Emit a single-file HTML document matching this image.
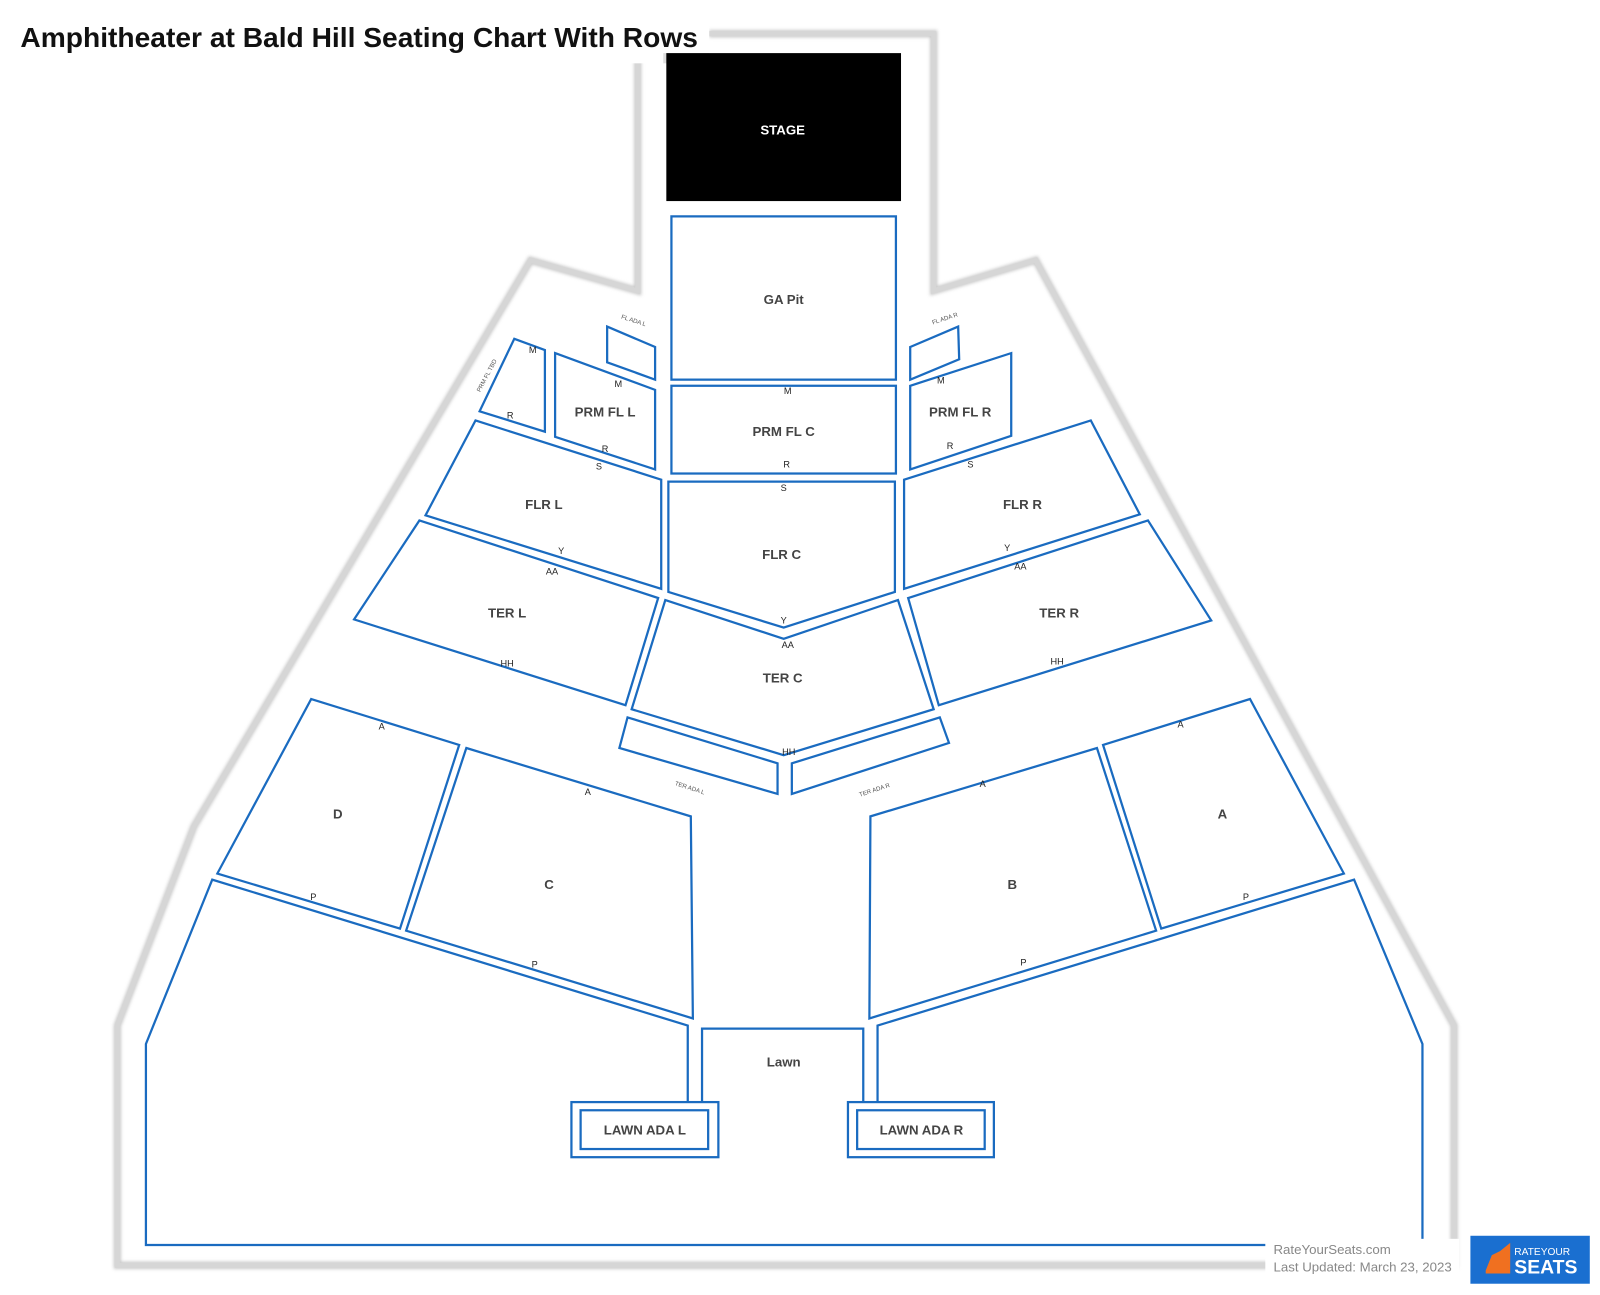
<!DOCTYPE html>
<html><head><meta charset="utf-8"><style>
html,body{margin:0;padding:0;background:#fff;width:1600px;height:1295px;overflow:hidden}
svg{display:block}
.s{fill:#fff;stroke:#1a6bc0;stroke-width:2.2;stroke-linejoin:miter}
.l{font-family:"Liberation Sans",sans-serif;font-weight:bold;font-size:13px;fill:#444;text-anchor:middle}
.r{font-family:"Liberation Sans",sans-serif;font-size:9px;fill:#222;text-anchor:middle}
.t{font-family:"Liberation Sans",sans-serif;font-size:6px;fill:#555;text-anchor:middle}
</style></head><body>
<svg width="1600" height="1295" viewBox="0 0 1568 1269" xmlns="http://www.w3.org/2000/svg">
<defs><filter id="sh" x="-5%" y="-5%" width="110%" height="110%"><feGaussianBlur stdDeviation="1.5"/></filter></defs>
<path d="M695,33 L915,33 L915,285 L1015,255 L1425,1005 L1425,1240 L115,1240 L115,1005 L190,810 L520,255 L625,285 L625,33 L650,33" fill="none" stroke="#c8c8c8" stroke-width="7" filter="url(#sh)"/>
<path d="M695,33 L915,33 L915,285 L1015,255 L1425,1005 L1425,1240 L115,1240 L115,1005 L190,810 L520,255 L625,285 L625,33 L650,33" fill="none" stroke="#d6d6d6" stroke-width="5"/>
<rect x="0" y="0" width="695" height="62" fill="#fff"/>
<rect x="650" y="52" width="45" height="10" fill="#ddd"/>
<text x="20" y="46" font-family="Liberation Sans,sans-serif" font-weight="bold" font-size="27" fill="#111" textLength="664" lengthAdjust="spacingAndGlyphs">Amphitheater at Bald Hill Seating Chart With Rows</text>
<rect x="653" y="52" width="230" height="145" fill="#000"/>
<text x="767" y="132" class="l" style="fill:#fff">STAGE</text>
<rect class="s" x="658" y="212" width="220" height="160"/><text class="l" x="768" y="298">GA Pit</text>
<rect class="s" x="658" y="378" width="220" height="86"/><text class="l" x="768" y="427">PRM FL C</text>
<text class="r" x="772" y="386">M</text><text class="r" x="771" y="458">R</text>
<polygon class="s" points="655,472 877,472 877,580 768,615 655,580"/><text class="l" x="766" y="548">FLR C</text>
<text class="r" x="768" y="481">S</text><text class="r" x="768" y="611">Y</text>
<polygon class="s" points="652,588 768,626 880,588 915,695 768,740 619,695"/><text class="l" x="767" y="669">TER C</text>
<text class="r" x="772" y="635">AA</text><text class="r" x="773" y="740">HH</text>
<polygon class="s" points="615,703 762,748 762,778 607,733"/>
<polygon class="s" points="776,748 921,703 930,728 776,778"/>
<text class="t" x="676" y="774" transform="rotate(18 676 772)">TER ADA L</text>
<text class="t" x="857" y="776" transform="rotate(-18 857 774)">TER ADA R</text>
<polygon class="s" points="595,320 642,340 642,372 595,355"/>
<polygon class="s" points="892,340 939,320 940,352 892,372"/>
<text class="t" x="621" y="316" transform="rotate(18 621 314)">FL ADA L</text>
<text class="t" x="926" y="314" transform="rotate(-18 926 312)">FL ADA R</text>
<polygon class="s" points="504,332 534,343 534,423 470,403"/>
<text class="t" x="477" y="370" transform="rotate(-62 477 368)">PRM FL TBD</text>
<text class="r" x="522" y="346">M</text><text class="r" x="500" y="410">R</text>
<polygon class="s" points="544,346 642,382 642,460 544,428"/><text class="l" x="593" y="408">PRM FL L</text>
<text class="r" x="606" y="379">M</text><text class="r" x="593" y="443">R</text>
<polygon class="s" points="892,378 991,346 991,427 892,460"/><text class="l" x="941" y="408">PRM FL R</text>
<text class="r" x="922" y="376">M</text><text class="r" x="931" y="440">R</text>
<polygon class="s" points="466,412 648,470 648,577 417,505"/><text class="l" x="533" y="499">FLR L</text>
<text class="r" x="587" y="460">S</text><text class="r" x="550" y="543">Y</text>
<polygon class="s" points="886,470 1069,412 1117,504 886,577"/><text class="l" x="1002" y="499">FLR R</text>
<text class="r" x="951" y="458">S</text><text class="r" x="987" y="540">Y</text>
<polygon class="s" points="411,510 645,586 613,691 347,607"/><text class="l" x="497" y="605">TER L</text>
<text class="r" x="541" y="563">AA</text><text class="r" x="497" y="653">HH</text>
<polygon class="s" points="890,586 1125,510 1187,608 920,691"/><text class="l" x="1038" y="605">TER R</text>
<text class="r" x="1000" y="558">AA</text><text class="r" x="1036" y="651">HH</text>
<polygon class="s" points="305,685 450,730 392,910 213,856"/><text class="l" x="331" y="802">D</text>
<text class="r" x="374" y="715">A</text><text class="r" x="307" y="882">P</text>
<polygon class="s" points="457,733 677,800 679,998 398,912"/><text class="l" x="538" y="871">C</text>
<text class="r" x="576" y="779">A</text><text class="r" x="524" y="948">P</text>
<polygon class="s" points="853,800 1075,733 1133,912 852,998"/><text class="l" x="992" y="871">B</text>
<text class="r" x="963" y="771">A</text><text class="r" x="1003" y="946">P</text>
<polygon class="s" points="1081,730 1225,685 1317,856 1138,910"/><text class="l" x="1198" y="802">A</text>
<text class="r" x="1157" y="713">A</text><text class="r" x="1221" y="882">P</text>
<path class="s" style="fill:none" d="M674,1080 L674,1005 L208,862 L143,1023 L143,1220 L1394,1220 L1394,1023 L1327,862 L860,1005 L860,1080"/>
<path class="s" style="fill:none" d="M688,1080 L688,1008 L846,1008 L846,1080"/>
<text class="l" x="768" y="1045">Lawn</text>
<rect class="s" x="560" y="1080" width="144" height="54"/><rect class="s" x="569" y="1088" width="125" height="38"/>
<text class="l" x="632" y="1112">LAWN ADA L</text>
<rect class="s" x="831" y="1080" width="143" height="54"/><rect class="s" x="840" y="1088" width="125" height="38"/>
<text class="l" x="903" y="1112">LAWN ADA R</text>
<rect x="1240" y="1214" width="190" height="40" fill="#fff"/>
<text x="1248" y="1229" font-family="Liberation Sans,sans-serif" font-size="13" fill="#888">RateYourSeats.com</text>
<text x="1248" y="1246" font-family="Liberation Sans,sans-serif" font-size="13" fill="#888">Last Updated: March 23, 2023</text>
<rect x="1441" y="1211" width="117" height="47" fill="#1a6fd0"/>
<polygon points="1456,1245 1462,1230 1470,1226 1480,1218 1480,1248 1456,1248" fill="#f07020"/>
<text x="1484" y="1230" font-family="Liberation Sans,sans-serif" font-size="10" fill="#fff">RATEYOUR</text>
<text x="1484" y="1248" font-family="Liberation Sans,sans-serif" font-weight="bold" font-size="19" fill="#fff">SEATS</text>
</svg>
</body></html>
